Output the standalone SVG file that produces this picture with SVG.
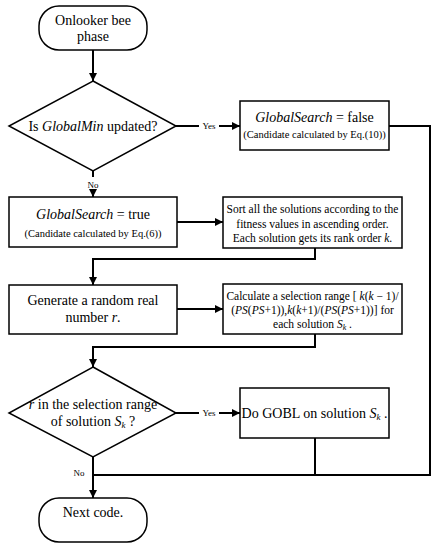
<svg xmlns="http://www.w3.org/2000/svg" width="439" height="550" viewBox="0 0 439 550">
<style>
.shape{fill:#fff;stroke:#000;stroke-width:1.5}
.conn{fill:none;stroke:#000;stroke-width:2}
text{font-family:"Liberation Serif","DejaVu Serif",serif}
.t{font-size:14px;fill:#000;text-anchor:middle}
.s{font-size:10.5px}
.m{font-size:11.5px}
.lbl{font-size:9px;fill:#000;text-anchor:middle}
.i{font-style:italic}
</style>
<defs>
<marker id="arr" markerUnits="userSpaceOnUse" markerWidth="10" markerHeight="10" refX="8" refY="4" orient="auto">
<path d="M0,0 L8,4 L0,8 Z" fill="#000"/>
</marker>
</defs>
<rect width="439" height="550" fill="#fff"/>
<g id="connectors">
<path class="conn" d="M93,50 V81" marker-end="url(#arr)"/>
<path class="conn" d="M176,126 H199"/>
<path class="conn" d="M219,126 H240" marker-end="url(#arr)"/>
<path class="conn" d="M389,126 H430 V475 H93"/>
<path class="conn" d="M93,171 V177"/>
<path class="conn" d="M93,191 V197" marker-end="url(#arr)"/>
<path class="conn" d="M177,222 H223" marker-end="url(#arr)"/>
<path class="conn" d="M315,248 V259 H93 V285" marker-end="url(#arr)"/>
<path class="conn" d="M177,309 H223" marker-end="url(#arr)"/>
<path class="conn" d="M315,334 V347 H93 V367" marker-end="url(#arr)"/>
<path class="conn" d="M176,413 H199"/>
<path class="conn" d="M219,413 H240" marker-end="url(#arr)"/>
<path class="conn" d="M315,438 V475"/>
<path class="conn" d="M93,457 V498" marker-end="url(#arr)"/>
<text class="lbl" x="209" y="129">Yes</text>
<text class="lbl" x="93" y="188">No</text>
<text class="lbl" x="209" y="416">Yes</text>
<text class="lbl" x="79" y="476">No</text>
</g>
<g id="start">
<rect class="shape" x="39" y="6" width="108" height="44" rx="20"/>
<text class="t" x="93" y="25">Onlooker bee</text>
<text class="t" x="93" y="41">phase</text>
</g>
<g id="decision1">
<polygon class="shape" points="93,81 176,126 93,171 9,126"/>
<text class="t" x="93" y="131">Is <tspan class="i">GlobalMin</tspan> updated?</text>
</g>
<g id="search-false">
<rect class="shape" x="240" y="101" width="149" height="49"/>
<text class="t" x="314.5" y="122"><tspan class="i">GlobalSearch</tspan> = false</text>
<text class="t s" x="314.5" y="138">(Candidate calculated by Eq.(10))</text>
</g>
<g id="search-true">
<rect class="shape" x="9" y="197" width="168" height="50"/>
<text class="t" x="93" y="219"><tspan class="i">GlobalSearch</tspan> =  true</text>
<text class="t s" x="93" y="237">(Candidate calculated by Eq.(6))</text>
</g>
<g id="sort">
<rect class="shape" x="223" y="197" width="179" height="51"/>
<text class="t m" x="312.5" y="213">Sort all the solutions according to the</text>
<text class="t m" x="312.5" y="228">fitness values in ascending order.</text>
<text class="t m" x="312.5" y="242">Each solution gets its rank order <tspan class="i">k</tspan>.</text>
</g>
<g id="generate">
<rect class="shape" x="9" y="285" width="168" height="49"/>
<text class="t" x="93" y="305">Generate a random real</text>
<text class="t" x="93" y="322">number <tspan class="i">r</tspan>.</text>
</g>
<g id="calculate">
<rect class="shape" x="223" y="284" width="179" height="50"/>
<text class="t m" x="312.5" y="300">Calculate a selection range [ <tspan class="i">k</tspan>(<tspan class="i">k</tspan> − 1)/</text>
<text class="t m" x="312.5" y="314">(<tspan class="i">PS</tspan>(<tspan class="i">PS</tspan>+1)),<tspan class="i">k</tspan>(<tspan class="i">k</tspan>+1)/(<tspan class="i">PS</tspan>(<tspan class="i">PS</tspan>+1))] for</text>
<text class="t m" x="312.5" y="328">each solution <tspan class="i">S</tspan><tspan class="i" font-size="8" dy="2">k</tspan><tspan dy="-2"> .</tspan></text>
</g>
<g id="decision2">
<polygon class="shape" points="93,367 176,413 93,457 9,413"/>
<text class="t" x="93" y="409"><tspan class="i">r</tspan> in the selection range</text>
<text class="t" x="93" y="426">of solution <tspan class="i">S</tspan><tspan class="i" font-size="9" dy="2">k</tspan><tspan dy="-2"> ?</tspan></text>
</g>
<g id="gobl">
<rect class="shape" x="240" y="388" width="149" height="50"/>
<text class="t" x="314.5" y="418">Do GOBL on solution <tspan class="i">S</tspan><tspan class="i" font-size="9" dy="2">k</tspan><tspan dy="-2"> .</tspan></text>
</g>
<g id="end">
<rect class="shape" x="39" y="498" width="108" height="44" rx="20"/>
<text class="t" x="93" y="517">Next code.</text>
</g>
</svg>
